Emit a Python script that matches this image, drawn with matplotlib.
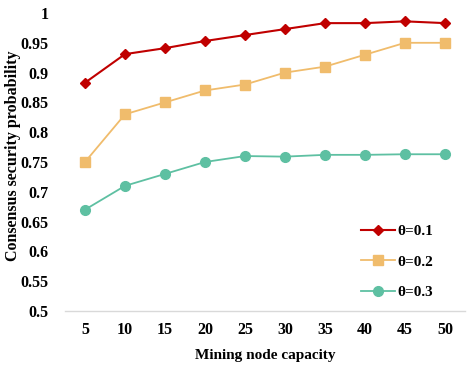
import matplotlib.pyplot as plt

# datos
capacidad = ['5', '10', '15', '20', '25', '30', '35', '40', '45', '50']
theta01 = [0.883, 0.931, 0.941, 0.953, 0.963, 0.973, 0.983, 0.983, 0.986, 0.983]
theta02 = [0.75, 0.83, 0.85, 0.87, 0.88, 0.90, 0.91, 0.93, 0.95, 0.95]
theta03 = [0.67, 0.71, 0.73, 0.75, 0.76, 0.759, 0.762, 0.762, 0.763, 0.763]
etiquetas = ['θ=0.1', 'θ=0.2', 'θ=0.3']

plt.rcParams['font.family'] = ['Liberation Serif', 'DejaVu Serif']
plt.rcParams['font.weight'] = 'bold'

fig = plt.figure(figsize=(4.74, 3.66), dpi=100)
ax = fig.add_axes([65/474, 55/366, 400/474, 298/366])

ax.plot(capacidad, theta01, color='#C00000', marker='D', markersize=5.5, lw=1.5, label=etiquetas[0])
ax.plot(capacidad, theta02, color='#F0BC6C', marker='s', markersize=7, lw=1.3, label=etiquetas[1])
ax.plot(capacidad, theta03, color='#5EC0A2', marker='o', markersize=7, lw=1.3, label=etiquetas[2])

ax.set_xlim(-0.5, 9.5)
ax.set_ylim(0.5, 1.0)
ax.set_yticks([0.5, 0.55, 0.6, 0.65, 0.7, 0.75, 0.8, 0.85, 0.9, 0.95, 1.0])
ax.set_yticklabels(['0.5', '0.55', '0.6', '0.65', '0.7', '0.75', '0.8', '0.85', '0.9', '0.95', '1'])
ax.tick_params(length=0, labelsize=11.5, pad=8)
ax.tick_params(axis='y', pad=12)

for s in ['top', 'right', 'left']:
    ax.spines[s].set_visible(False)
ax.spines['bottom'].set_color('#D9D9D9')
ax.spines['bottom'].set_linewidth(1)

ax.set_xlabel('Mining node capacity', fontsize=11, fontweight='bold', labelpad=8)
ax.set_ylabel('Consensus security probability', fontsize=11.5, fontweight='bold',
              va='center')
ax.yaxis.set_label_coords(-0.13, 0.52)

ax.legend(loc='lower right', bbox_to_anchor=(0.955, -0.007), frameon=False, fontsize=11,
          labelspacing=1.1, handlelength=2.2, handletextpad=0.15)

plt.savefig('out.png', dpi=100)
